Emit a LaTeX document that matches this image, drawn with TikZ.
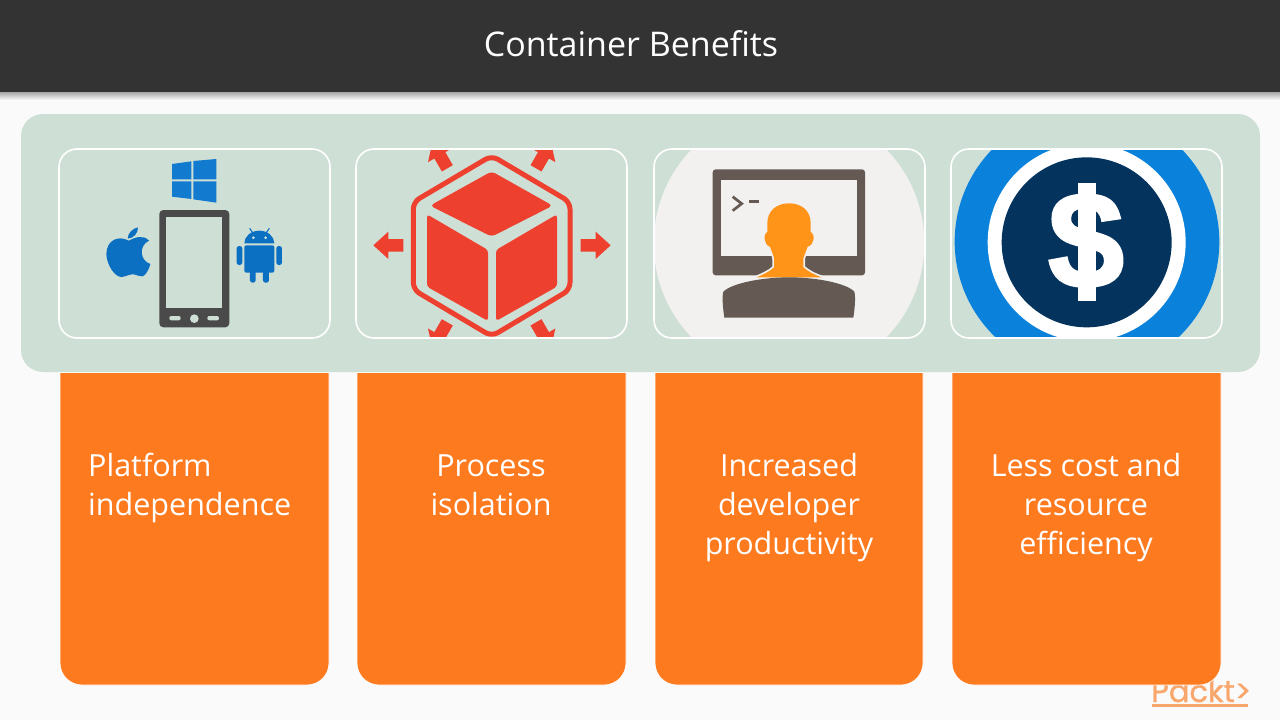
\documentclass[tikz,border=0pt]{standalone}
\usepackage{fontspec}
\setmainfont{Open Sans}
\newfontfamily\packtfont[FakeBold=1]{Poppins}
\newfontfamily\dollarfont[FakeBold=1.5]{Liberation Sans Bold}
\usetikzlibrary{shadings}
\definecolor{pagebg}{HTML}{FAFAFA}
\definecolor{headbar}{HTML}{333333}
\definecolor{panelgreen}{HTML}{CEDFD6}
\definecolor{cardorange}{HTML}{FE7A1F}
\definecolor{iconblue}{HTML}{0B6FC2}
\definecolor{wingblue}{HTML}{127BD0}
\definecolor{phonegrey}{HTML}{4A4A4A}
\definecolor{cubered}{HTML}{EE402E}
\definecolor{moncolor}{HTML}{645A53}
\definecolor{monbg}{HTML}{F2F1EF}
\definecolor{headorange}{HTML}{FF9418}
\definecolor{coinblue}{HTML}{0A82DC}
\definecolor{coindark}{HTML}{04345E}
\definecolor{packtorange}{HTML}{F9A66C}
\tikzset{
  x=1pt,y=-1pt,
  cardbox/.style={fill=cardorange,draw=white,line width=0.7pt},
  cardtext/.style={text=white,inner sep=0pt,font=\fontsize{30.5}{39}\selectfont},
  iconframe/.style={draw=white,line width=1.6pt,rounded corners=18pt},
  zoomcoords/.style={x=0.33333pt,y=-0.33333pt,shift={(#1)}},
  cubearrow/.style={fill=cubered},
}
\begin{document}
\begin{tikzpicture}
\useasboundingbox (0,0) rectangle (1280,720);
\fill[pagebg] (0,0) rectangle (1280,720);
% header
\shade[top color=black!35,bottom color=pagebg] (0,92) rectangle (1280,100);
\fill[headbar] (0,0) rectangle (1280,92);
\node[text=white,inner sep=0pt,font=\fontsize{34}{39}\selectfont] (title) at (631,43.5) {Container Benefits};
% logo (behind the cards)
\node[text=packtorange,inner sep=0pt,anchor=base west,font=\packtfont\fontsize{30.5}{39}\selectfont] (logo) at (1151,702) {Packt>};
\fill[packtorange] (1152,703.5) rectangle (1248,706.5);
% cards
\foreach \a/\b in {60/329,357/626,655/923,952/1221}{
  \path[cardbox] (\a,372.5) -- (\b,372.5) [rounded corners=22pt] -- (\b,685) -- (\a,685) [sharp corners] -- cycle;
}
\node[cardtext,align=left,anchor=west] (t1) at (88,488) {Platform\\independence};
\node[cardtext,align=center] (t2) at (491,485) {Process\\isolation};
\node[cardtext,align=center] (t3) at (789,508) {Increased\\developer\\productivity};
\node[cardtext,align=center] (t4) at (1086,508) {Less cost and\\resource\\efficiency};
% big panel
\fill[panelgreen,rounded corners=22pt] (21,114) rectangle (1260,372);
% --- icon 1
\begin{scope}[zoomcoords={50pt,-140pt}]
 \fill[wingblue] (366,72) -- (424,64) -- (424,118) -- (366,118) -- cycle;
 \fill[wingblue] (430,63) -- (499,57) -- (499,118) -- (430,118) -- cycle;
 \fill[wingblue] (366,124) -- (424,124) -- (424,177) -- (366,170) -- cycle;
 \fill[wingblue] (430,124) -- (499,124) -- (499,188) -- (430,178) -- cycle;
 \fill[phonegrey,rounded corners=4pt] (328,210) rectangle (538,562);
 \fill[panelgreen] (349,232) rectangle (517,505);
 \fill[panelgreen] (433,536) circle (13);
 \fill[panelgreen,rounded corners=2pt] (358,528) rectangle (392,541);
 \fill[panelgreen,rounded corners=2pt] (472,528) rectangle (507,541);
 % apple
 \fill[iconblue] (236,302) .. controls (205,285) and (170,300) .. (169,342)
   .. controls (170,375) and (195,412) .. (215,411)
   .. controls (228,410) and (238,402) .. (250,403)
   .. controls (262,404) and (268,411) .. (278,409)
   .. controls (288,406) and (298,385) .. (301,372)
   .. controls (270,362) and (265,318) .. (297,302)
   .. controls (280,283) and (255,292) .. (236,302) -- cycle;
 \fill[iconblue] (233,296) .. controls (233,280) and (248,265) .. (264,262)
   .. controls (265,280) and (250,295) .. (233,296) -- cycle;
 % android
 \fill[iconblue] (583,310) arc[start angle=180,end angle=360,x radius=45,y radius=38] -- cycle;
 \draw[iconblue,line width=1.1pt] (599,265) -- (611,283) (658,265) -- (646,283);
 \fill[panelgreen] (610,293) circle (4.5) (647,293) circle (4.5);
 \fill[iconblue,rounded corners=2pt] (583,340) -- (583,316) -- (673,316) -- (673,340) -- (673,398) -- (583,398) -- cycle;
 \fill[iconblue,rounded corners=2.5pt] (560,318) rectangle (577,375);
 \fill[iconblue,rounded corners=2.5pt] (679,318) rectangle (696,375);
 \fill[iconblue,rounded corners=2.5pt] (600,385) rectangle (617,428);
 \fill[iconblue,rounded corners=2.5pt] (639,385) rectangle (657,428);
\end{scope}
% --- icon 2
\begin{scope}
 \clip[rounded corners=18pt] (356,149) rectangle (627,338);
 \begin{scope}[zoomcoords={350pt,-140pt}]
  \draw[cubered,line width=5pt,rounded corners=7pt,line join=round] (425,47) -- (660,186) -- (660,449) -- (425,589) -- (190,449) -- (190,186) -- cycle;
  \fill[cubered,rounded corners=4pt] (425,94) -- (608,197) -- (425,290) -- (240,197) -- cycle;
  \fill[cubered,rounded corners=3pt] (231,223) -- (414,330) -- (414,543) -- (231,440) -- cycle;
  \fill[cubered,rounded corners=3pt] (621,223) -- (438,330) -- (438,543) -- (621,440) -- cycle;
  \foreach \cx/\cy/\ang in {160/316/180, 692/316/0, 292/85/120, 558/85/60, 292/547/240, 558/547/300}{
    \fill[cubearrow,shift={(\cx,\cy)},rotate=\ang,x=0.33333pt,y=0.33333pt] (0,-19) -- (45,-19) -- (45,-41) -- (90,0) -- (45,41) -- (45,19) -- (0,19) -- cycle;
  }
 \end{scope}
\end{scope}
% --- icon 3
\begin{scope}
 \clip[rounded corners=18pt] (654,149) rectangle (925,338);
 \begin{scope}[zoomcoords={645pt,-140pt}]
  \fill[monbg] (432,310) circle (406);
  \fill[moncolor,rounded corners=3pt] (203,88) rectangle (660,406);
  \fill[monbg] (228,120) rectangle (635,348);
  \draw[moncolor,line width=2.7pt] (263,170) -- (290,191) -- (263,212);
  \draw[moncolor,line width=2.7pt] (312,184) -- (343,184);
  \def\personpath{(432,190) .. controls (395,190) and (367,212) .. (367,250)
    -- (367,275) .. controls (355,280) and (355,315) .. (375,320)
    .. controls (380,335) and (385,345) .. (387,355)
    -- (387,382) .. controls (375,395) and (350,405) .. (335,412)
    -- (530,412) .. controls (510,405) and (490,395) .. (475,382)
    -- (475,355) .. controls (478,345) and (483,335) .. (488,320)
    .. controls (510,315) and (510,280) .. (497,275)
    -- (497,250) .. controls (497,212) and (470,190) .. (432,190) -- cycle}
  \draw[monbg,line width=3.5pt] \personpath;
  \fill[headorange] \personpath;
  \fill[moncolor] (235,455) .. controls (260,430) and (350,412) .. (432,412)
    .. controls (515,412) and (605,430) .. (628,455)
    .. controls (632,470) and (630,500) .. (625,533)
    -- (238,533) .. controls (233,500) and (231,470) .. (235,455) -- cycle;
 \end{scope}
\end{scope}
% --- icon 4
\begin{scope}
 \clip[rounded corners=18pt] (951,149) rectangle (1222,338);
 \begin{scope}[zoomcoords={940pt,-140pt}]
  \fill[coinblue] (441,305) circle (397);
  \fill[white] (440,307) circle (297);
  \fill[coindark] (440,307) circle (255);
  \fill[white] (415,130) rectangle (467,482);
 \end{scope}
 \node[text=white,inner sep=0pt,font=\dollarfont\fontsize{138}{138}\selectfont] (dollar) at (1086,242) {\$};
\end{scope}
% frames
\node[iconframe,minimum width=271pt,minimum height=189pt,inner sep=0pt] (f1) at (194.5,243.5) {};
\node[iconframe,minimum width=271pt,minimum height=189pt,inner sep=0pt] (f2) at (491.5,243.5) {};
\node[iconframe,minimum width=271pt,minimum height=189pt,inner sep=0pt] (f3) at (789.5,243.5) {};
\node[iconframe,minimum width=271pt,minimum height=189pt,inner sep=0pt] (f4) at (1086.5,243.5) {};
\end{tikzpicture}
\end{document}
